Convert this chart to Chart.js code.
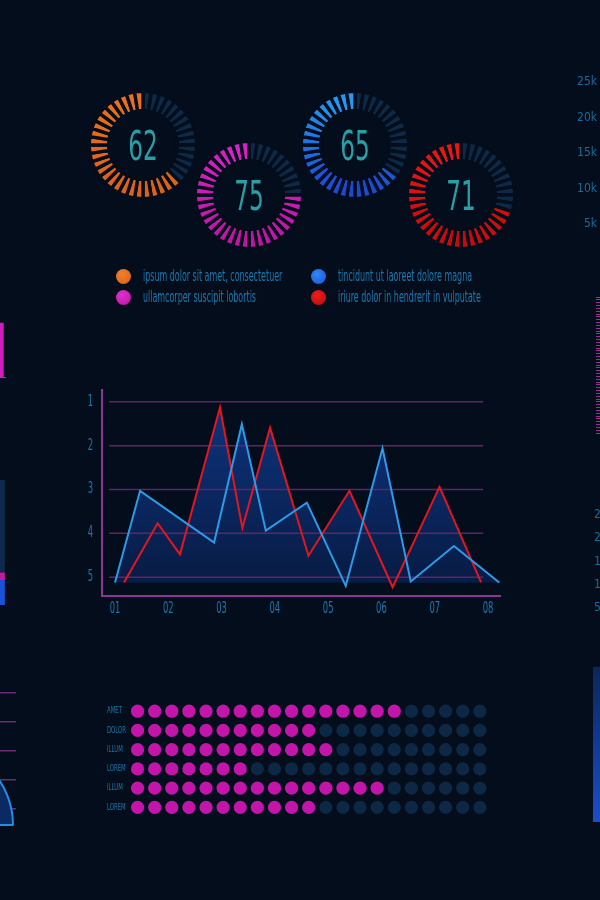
<!DOCTYPE html>
<html>
<head>
<meta charset="utf-8">
<script src="https://cdn.jsdelivr.net/npm/chart.js@4.4.0/dist/chart.umd.min.js"></script>
<style>
html, body { margin: 0; padding: 0; background: #030d1b; }
#page { position: relative; width: 600px; height: 900px; overflow: hidden; background: #030d1b; }
.lg { position: absolute; white-space: nowrap; font-family: 'DejaVu Sans Condensed', 'DejaVu Sans', sans-serif;
      font-size: 15px; line-height: 18px; color: #1d78ad; transform: scaleX(0.59); transform-origin: left center; }
.dot { position: absolute; width: 15px; height: 15px; border-radius: 50%; }
</style>
</head>
<body>
<div id="page"></div>
<script>
// ---- data ----
var gaugeValues = [62, 75, 65, 71];
var gaugeNames = ["ipsum dolor sit amet, consectetuer", "ullamcorper suscipit lobortis",
                  "tincidunt ut laoreet dolore magna", "iriure dolor in hendrerit in vulputate"];

var lineLabels = ["01", "02", "03", "04", "05", "06", "07", "08"];
var rankLabels = ["1", "2", "3", "4", "5"];
var blueX = [1.0, 1.47, 2.86, 3.38, 3.83, 4.60, 5.33, 6.02, 6.55, 7.36, 8.21];
var blueY = [5.12, 3.03, 4.21, 1.51, 3.94, 3.30, 5.20, 2.06, 5.10, 4.29, 5.12];
var redX = [1.17, 1.80, 2.22, 2.97, 3.39, 3.91, 4.63, 5.40, 6.21, 7.09, 7.87];
var redY = [5.12, 3.77, 4.48, 1.13, 3.88, 1.59, 4.51, 3.03, 5.23, 2.94, 5.12];

var rowLabels = ["AMET", "DOLOR", "ILLUM", "LOREM", "ILLUM", "LOREM"];
var rowFilled = [16, 11, 12, 7, 15, 11];
var dotsPerRow = 21;

var kLabels = [5000, 10000, 15000, 20000, 25000];
var sideLabels = [5, 10, 15, 20, 25];
var stackParts = [20, 6, 74];

// ---- setup ----
var BG = "#030d1b";
var FONT = "'DejaVu Sans Condensed', 'DejaVu Sans', sans-serif";
var TEXT = "#1d78ad";
Chart.defaults.animation = false;
Chart.defaults.responsive = false;
Chart.defaults.plugins.legend.display = false;
Chart.defaults.plugins.tooltip.enabled = false;
Chart.defaults.font.family = FONT;

var page = document.getElementById("page");

function place(left, top, w, h) {
    var c = document.createElement("canvas");
    c.width = w; c.height = h;
    c.style.cssText = "position:absolute;left:" + left + "px;top:" + top + "px;width:" + w + "px;height:" + h + "px";
    page.appendChild(c);
    return c;
}

function narrowText(ctx, text, x, y, size, sx, align, color, base) {
    ctx.save();
    ctx.font = size + "px " + FONT;
    ctx.fillStyle = color;
    ctx.textBaseline = base || "middle";
    ctx.textAlign = align;
    ctx.translate(x, y);
    ctx.scale(sx, 1);
    ctx.fillText(text, 0, 0);
    ctx.restore();
}

function mix(a, b, t) {
    var p = function (h, i) { return parseInt(h.substr(1 + i * 2, 2), 16); };
    var out = [0, 1, 2].map(function (i) { return Math.round(p(a, i) + (p(b, i) - p(a, i)) * t); });
    return "rgb(" + out.join(",") + ")";
}

// ---- gauges ----
var gaugeCenters = [[143, 145], [249, 195], [355, 145], [461, 195]];
var gaugeColors = [["#ec701c", "#dc621a"], ["#d820c6", "#bd169f"], ["#2399f2", "#1c48d0"], ["#ee1414", "#c40c0c"]];
var SEG = 40;

gaugeValues.forEach(function (val, k) {
    var c = gaugeCenters[k];
    var on = Math.round(val / 100 * SEG);
    var cols = [];
    for (var i = 0; i < SEG; i++) {
        if (i < SEG - on) { cols.push("#0e2946"); continue; }
        var ang = (i + 0.5) / SEG * Math.PI * 2;
        cols.push(mix(gaugeColors[k][0], gaugeColors[k][1], (1 - Math.cos(ang)) / 2));
    }
    new Chart(place(c[0] - 60, c[1] - 60, 120, 120), {
        type: "doughnut",
        data: { datasets: [{ data: new Array(SEG).fill(1), backgroundColor: cols,
                             borderWidth: 3.4, borderColor: BG, borderAlign: "center" }] },
        options: { radius: 53.7, cutout: "64%", layout: { padding: 0 } },
        plugins: [{
            id: "centerNum",
            afterDraw: function (chart) {
                narrowText(chart.ctx, String(val), 60, 75, 41, 0.63, "center", "#2a9ea6", "alphabetic");
            }
        }]
    });
});

// ---- legend ----
var legendPos = [[123, 276], [123, 297], [318, 276], [318, 297]];
var legendDot = [["#f0802a", "#d8601a"], ["#e030d0", "#b8149c"], ["#3088f4", "#1a52d4"], ["#f01c1c", "#b80a0a"]];
gaugeNames.forEach(function (name, k) {
    var p = legendPos[k];
    var d = document.createElement("div");
    d.className = "dot";
    d.style.left = (p[0] - 7.5) + "px";
    d.style.top = (p[1] - 7.5) + "px";
    d.style.background = "radial-gradient(circle at 40% 35%, " + legendDot[k][0] + ", " + legendDot[k][1] + ")";
    page.appendChild(d);
    var t = document.createElement("div");
    t.className = "lg";
    t.textContent = name;
    t.style.left = (p[0] + 20) + "px";
    t.style.top = (p[1] - 9) + "px";
    page.appendChild(t);
});

// ---- line chart ----
function pts(xs, ys) { return xs.map(function (x, i) { return { x: x, y: ys[i] }; }); }
function areaFill(ctx) {
    var a = ctx.chart.chartArea;
    if (!a) return "#0b2a66";
    var g = ctx.chart.ctx.createLinearGradient(0, a.top, 0, a.bottom);
    g.addColorStop(0, "#0e3582");
    g.addColorStop(1, "#071a40");
    return g;
}
new Chart(place(60, 380, 460, 250), {
    type: "line",
    data: {
        datasets: [
            { data: pts(blueX, blueY), borderColor: "#2c9be8", borderWidth: 2, pointRadius: 0, tension: 0,
              fill: { value: 5.12 }, backgroundColor: areaFill },
            { data: pts(redX, redY), borderColor: "#e3161e", borderWidth: 2, pointRadius: 0, tension: 0,
              fill: { value: 5.12 }, backgroundColor: areaFill }
        ]
    },
    options: {
        layout: { padding: { top: 10, right: 20, left: 0, bottom: 0 } },
        plugins: { filler: { drawTime: "beforeDatasetsDraw" } },
        scales: {
            x: { type: "linear", min: 0.756, max: 8.225, grid: { display: false },
                 border: { display: true, color: "#8e3594", width: 2 },
                 ticks: { display: false }, afterFit: function (s) { s.height = 34; } },
            y: { type: "linear", reverse: true, min: 0.73, max: 5.43, grid: { display: false },
                 border: { display: true, color: "#8e3594", width: 2 },
                 ticks: { display: false }, afterFit: function (s) { s.width = 42; } }
        }
    },
    plugins: [{
        id: "rankGrid",
        beforeDatasetsDraw: function (chart) {
            var ctx = chart.ctx, sx = chart.scales.x, sy = chart.scales.y;
            ctx.save();
            ctx.strokeStyle = "#5e2569";
            ctx.lineWidth = 1.5;
            rankLabels.forEach(function (l, i) {
                var y = sy.getPixelForValue(i + 1);
                ctx.beginPath();
                ctx.moveTo(sx.getPixelForValue(0.89), y);
                ctx.lineTo(sx.getPixelForValue(7.91), y);
                ctx.stroke();
            });
            ctx.restore();
        },
        afterDraw: function (chart) {
            var ctx = chart.ctx, sx = chart.scales.x, sy = chart.scales.y;
            lineLabels.forEach(function (l, i) {
                narrowText(ctx, l, sx.getPixelForValue(i + 1), chart.chartArea.bottom + 13, 15, 0.62, "center", TEXT);
            });
            rankLabels.forEach(function (l, i) {
                narrowText(ctx, l, chart.chartArea.left - 9, sy.getPixelForValue(i + 1), 15, 0.62, "right", TEXT);
            });
        }
    }]
});

// ---- dot matrix ----
var onDots = [], offDots = [];
rowFilled.forEach(function (n, r) {
    for (var c = 1; c <= dotsPerRow; c++) {
        (c <= n ? onDots : offDots).push({ x: c, y: r });
    }
});
new Chart(place(95, 695, 400, 130), {
    type: "scatter",
    data: {
        datasets: [
            { data: onDots, pointRadius: 6.6, pointBackgroundColor: "#c415ab", pointBorderWidth: 0 },
            { data: offDots, pointRadius: 6.6, pointBackgroundColor: "#0d2844", pointBorderWidth: 0 }
        ]
    },
    options: {
        layout: { padding: { top: 6, right: 2, bottom: 8, left: 0 } },
        scales: {
            x: { min: 0.5, max: 21.5, display: false },
            y: { min: -0.5, max: 5.5, reverse: true, grid: { display: false }, border: { display: false },
                 ticks: { display: false }, afterFit: function (s) { s.width = 34; } }
        }
    },
    plugins: [{
        id: "rowNames",
        afterDraw: function (chart) {
            var sy = chart.scales.y;
            rowLabels.forEach(function (l, r) {
                narrowText(chart.ctx, l, 12, sy.getPixelForValue(r), 8.5, 0.7, "left", TEXT);
            });
        }
    }]
});

// ---- cropped charts at the page edges ----
new Chart(place(560, 60, 100, 210), {
    type: "bar",
    data: { labels: ["a"], datasets: [{ data: [] }] },
    options: {
        layout: { padding: { top: 22, bottom: 10.5 } },
        scales: {
            x: { display: false },
            y: { min: 0, max: 25000, grid: { display: false, drawTicks: false }, border: { display: false },
                 afterBuildTicks: function (s) { s.ticks = kLabels.map(function (v) { return { value: v }; }); },
                 ticks: { color: "#1b6b9c", padding: 3, font: { size: 12 },
                          callback: function (v) { return (v / 1000) + "k"; } },
                 afterFit: function (s) { s.width = 40; } }
        }
    }
});

new Chart(place(594, 500, 100, 140), {
    type: "bar",
    data: { labels: ["a"], datasets: [{ data: [] }] },
    options: {
        layout: { padding: { top: 15, bottom: 8.7 } },
        scales: {
            x: { display: false },
            y: { min: 0, max: 25, grid: { display: false, drawTicks: false }, border: { display: false },
                 afterBuildTicks: function (s) { s.ticks = sideLabels.map(function (v) { return { value: v }; }); },
                 ticks: { color: "#1b6b9c", padding: 0, crossAlign: "far", font: { size: 12 } },
                 afterFit: function (s) { s.width = 30; } }
        }
    }
});

// pink ruler on the right edge
new Chart(place(590, 290, 20, 150), {
    type: "bar",
    data: { labels: ["a"], datasets: [{ data: [] }] },
    options: {
        layout: { padding: { top: 7, bottom: 7 } },
        scales: {
            x: { display: false },
            y: { min: 0, max: 48, border: { display: false },
                 grid: { drawOnChartArea: false, drawTicks: true, tickLength: 4, color: "#a0308f" },
                 ticks: { display: false, stepSize: 1, maxTicksLimit: 100 },
                 afterFit: function (s) { s.width = 10; } }
        }
    }
});

// left edge magenta bar
new Chart(place(-40, 315, 46, 70), {
    type: "bar",
    data: { labels: ["03"], datasets: [{ data: [9.2], backgroundColor: "#d11cc0", barPercentage: 0.9, categoryPercentage: 1 }] },
    options: {
        layout: { padding: { top: 3 } },
        scales: {
            x: { grid: { display: false }, border: { color: "#1d78ad" }, ticks: { display: false } },
            y: { display: false, min: 0, max: 10 }
        }
    }
});

// left edge stacked bar
new Chart(place(-40, 475, 46, 135), {
    type: "bar",
    data: {
        labels: ["1"],
        datasets: [
            { data: [stackParts[0]], backgroundColor: "#1b52d6", barPercentage: 0.95, categoryPercentage: 1 },
            { data: [stackParts[1]], backgroundColor: "#c8189f", barPercentage: 0.95, categoryPercentage: 1 },
            { data: [stackParts[2]], backgroundColor: "#0d2a4e", barPercentage: 0.95, categoryPercentage: 1 }
        ]
    },
    options: {
        layout: { padding: { top: 5, bottom: 5 } },
        scales: {
            x: { stacked: true, display: false },
            y: { stacked: true, display: false, min: 0, max: 100 }
        }
    }
});

// left edge grid lines
new Chart(place(-84, 686, 100, 130), {
    type: "line",
    data: { labels: ["a"], datasets: [{ data: [] }] },
    options: {
        layout: { padding: { top: 7, bottom: 7 } },
        scales: {
            x: { display: false },
            y: { min: 0, max: 4, border: { display: false }, ticks: { display: false, stepSize: 1 },
                 grid: { color: "#6a2a76", lineWidth: 1.5, drawTicks: false } }
        }
    }
});

// left edge half gauge (upper half shown, lower half left empty)
new Chart(place(-152, 740, 170, 170), {
    type: "doughnut",
    data: { datasets: [{ data: [1, 1], backgroundColor: ["#0b2a62", "rgba(0,0,0,0)"],
                         borderColor: ["#1f8ee8", "rgba(0,0,0,0)"], borderWidth: 2 }] },
    options: { radius: 80, cutout: "0%", rotation: -90 }
});

// right edge blue bar
new Chart(place(587, 650, 60, 180), {
    type: "bar",
    data: { labels: ["a"], datasets: [{ data: [93],
        backgroundColor: function (ctx) {
            var a = ctx.chart.chartArea;
            if (!a) return "#1640a8";
            var g = ctx.chart.ctx.createLinearGradient(0, a.top, 0, a.bottom);
            g.addColorStop(0, "#0b2350");
            g.addColorStop(1, "#1a4ecc");
            return g;
        }, barPercentage: 0.8, categoryPercentage: 1 }] },
    options: {
        layout: { padding: { top: 5, bottom: 8 } },
        scales: { x: { display: false }, y: { display: false, min: 0, max: 100 } }
    }
});
</script>
</body>
</html>
